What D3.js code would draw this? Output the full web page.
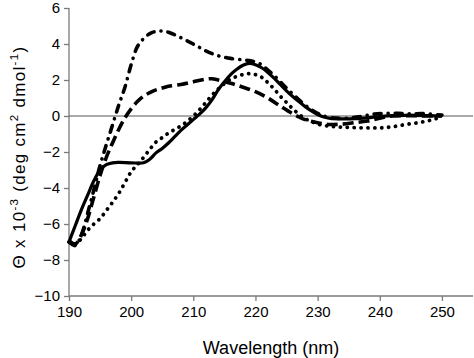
<!DOCTYPE html>
<html><head><meta charset="utf-8">
<script src="https://cdn.jsdelivr.net/npm/d3@7"></script>
<style>body{margin:0;background:#fff}svg{display:block}text{font-family:"Liberation Sans",Arial,sans-serif;fill:#000}</style>
</head><body><svg id="c" width="474" height="358"></svg>
<script>
const xTicks=[190,200,210,220,230,240,250];
const yTicks=[-10,-8,-6,-4,-2,0,2,4,6];

const solidWl=[190,191,192,193,194,195,196,197,198,200,202,203,204,205,206,207,208,209,210,211,212,213,214,215,216,217,218,219,220,221,222,223,224,225,226,227,228,229,230,231,232,234,236,238,240,242,245,248,250];
const solidVal=[-7.0,-6.1,-5.2,-4.4,-3.6,-3.0,-2.7,-2.6,-2.58,-2.6,-2.6,-2.4,-2.05,-1.8,-1.5,-1.15,-0.8,-0.5,-0.2,0.1,0.45,0.9,1.45,1.9,2.3,2.6,2.82,2.92,2.85,2.68,2.42,2.1,1.75,1.4,1.08,0.8,0.52,0.28,0.08,-0.06,-0.13,-0.16,-0.15,-0.1,-0.03,0.02,0.03,0.02,0.0];

const dottedWl=[190,191,192,193,194,195,196,197,198,199,200,201,202,203,204,205,206,207,208,209,210,211,212,213,214,215,216,217,218,219,220,221,222,223,224,225,226,227,228,229,230,232,234,236,238,240,242,244,246,248,250];
const dottedVal=[-7.0,-7.15,-6.8,-6.35,-6.0,-5.7,-5.25,-4.8,-4.3,-3.7,-3.1,-2.7,-2.3,-1.85,-1.45,-1.2,-0.95,-0.75,-0.55,-0.3,0.0,0.35,0.75,1.15,1.5,1.8,2.05,2.2,2.3,2.35,2.3,2.15,1.85,1.5,1.1,0.75,0.4,0.1,-0.15,-0.3,-0.45,-0.57,-0.62,-0.65,-0.66,-0.66,-0.6,-0.48,-0.38,-0.25,-0.05];

const dashedWl=[190,191,192,193,194,195,196,197,198,199,200,201,202,203,204,205,206,208,210,212,213,214,216,218,220,222,224,226,227,228,230,232,234,236,238,240,242,245,248,250];
const dashedVal=[-6.9,-7.1,-6.6,-5.7,-4.5,-3.3,-2.3,-1.5,-0.75,-0.1,0.4,0.8,1.1,1.3,1.45,1.55,1.65,1.75,1.9,2.05,2.07,2.0,1.82,1.6,1.35,1.0,0.55,0.12,-0.05,-0.2,-0.38,-0.47,-0.45,-0.37,-0.28,-0.12,0.0,0.02,0.0,0.0];

const dashDotWl=[190,191,192,193,194,195,196,197,198,199,200,201,202,203,204,205,206,208,210,212,214,216,218,219,220,221,222,223,224,225,226,227,228,229,230,231,233,235,237,239,241,243,245,247,250];
const dashDotVal=[-7.0,-7.2,-6.6,-5.4,-4.1,-2.75,-1.6,-0.5,0.6,1.6,2.85,3.85,4.3,4.58,4.7,4.72,4.65,4.35,4.0,3.62,3.35,3.2,3.12,3.08,3.0,2.85,2.55,2.25,1.9,1.55,1.22,0.9,0.6,0.35,0.15,0.0,-0.12,-0.12,-0.02,0.1,0.15,0.15,0.12,0.13,0.05];

const svg=d3.select("#c");
const x=d3.scaleLinear().domain([190,255]).range([69,473]);
const y=d3.scaleLinear().domain([-10,6]).range([296,8]);

const axisCol="#7a7a7a";
const gx=svg.append("g").attr("transform","translate(0,296)")
  .call(d3.axisBottom(x).tickValues(xTicks).tickSize(5).tickPadding(5).tickFormat(d3.format("d")));
const gy=svg.append("g").attr("transform","translate(69,0)")
  .call(d3.axisLeft(y).tickValues(yTicks).tickSize(5).tickPadding(4).tickFormat(d3.format("d")));
[gx,gy].forEach(g=>{
  g.select(".domain").attr("stroke",axisCol).attr("stroke-width",1.3);
  g.selectAll(".tick line").attr("stroke",axisCol).attr("stroke-width",1.3);
  g.selectAll(".tick text").attr("font-size",15).attr("font-family","Liberation Sans, Arial, sans-serif").attr("fill","#111");
});
gy.select(".domain").attr("d","M0,8V296");
gx.select(".domain").attr("d","M69,0H473");

svg.append("line").attr("x1",x(190)).attr("x2",x(255)).attr("y1",y(0)).attr("y2",y(0))
  .attr("stroke","#555").attr("stroke-width",1);

const line=d3.line().x(d=>x(d[0])).y(d=>y(d[1])).curve(d3.curveCatmullRom.alpha(0.5));
function draw(wl,val,opt){
  svg.append("path").datum(wl.map((w,i)=>[w,val[i]])).attr("d",line)
    .attr("fill","none").attr("stroke","#000").attr("stroke-width",opt.w)
    .attr("stroke-dasharray",opt.dash||null).attr("stroke-linecap",opt.cap||"butt")
    .attr("stroke-linejoin","round");
}
draw(dottedWl,dottedVal,{w:3.8,dash:"0.1,6.8",cap:"round"});
draw(dashedWl,dashedVal,{w:3.6,dash:"11,5"});
draw(dashDotWl,dashDotVal,{w:3.6,dash:"7,7,0.1,7",cap:"round"});
draw(solidWl,solidVal,{w:3.2});

svg.append("text").attr("x",271).attr("y",354).attr("text-anchor","middle")
  .attr("font-size",18).text("Wavelength (nm)");

const yl=svg.append("text").attr("transform","translate(25,157) rotate(-90)")
  .attr("text-anchor","middle").attr("font-size",17).attr("letter-spacing",1.3);
yl.append("tspan").text("Θ x 10");
yl.append("tspan").attr("font-size",11.5).attr("dy",-7).text("-3");
yl.append("tspan").attr("dy",7).text(" (deg cm");
yl.append("tspan").attr("font-size",11.5).attr("dy",-7).text("2");
yl.append("tspan").attr("dy",7).text(" dmol");
yl.append("tspan").attr("font-size",11.5).attr("dy",-7).text("-1");
yl.append("tspan").attr("dy",7).text(")");
</script></body></html>
